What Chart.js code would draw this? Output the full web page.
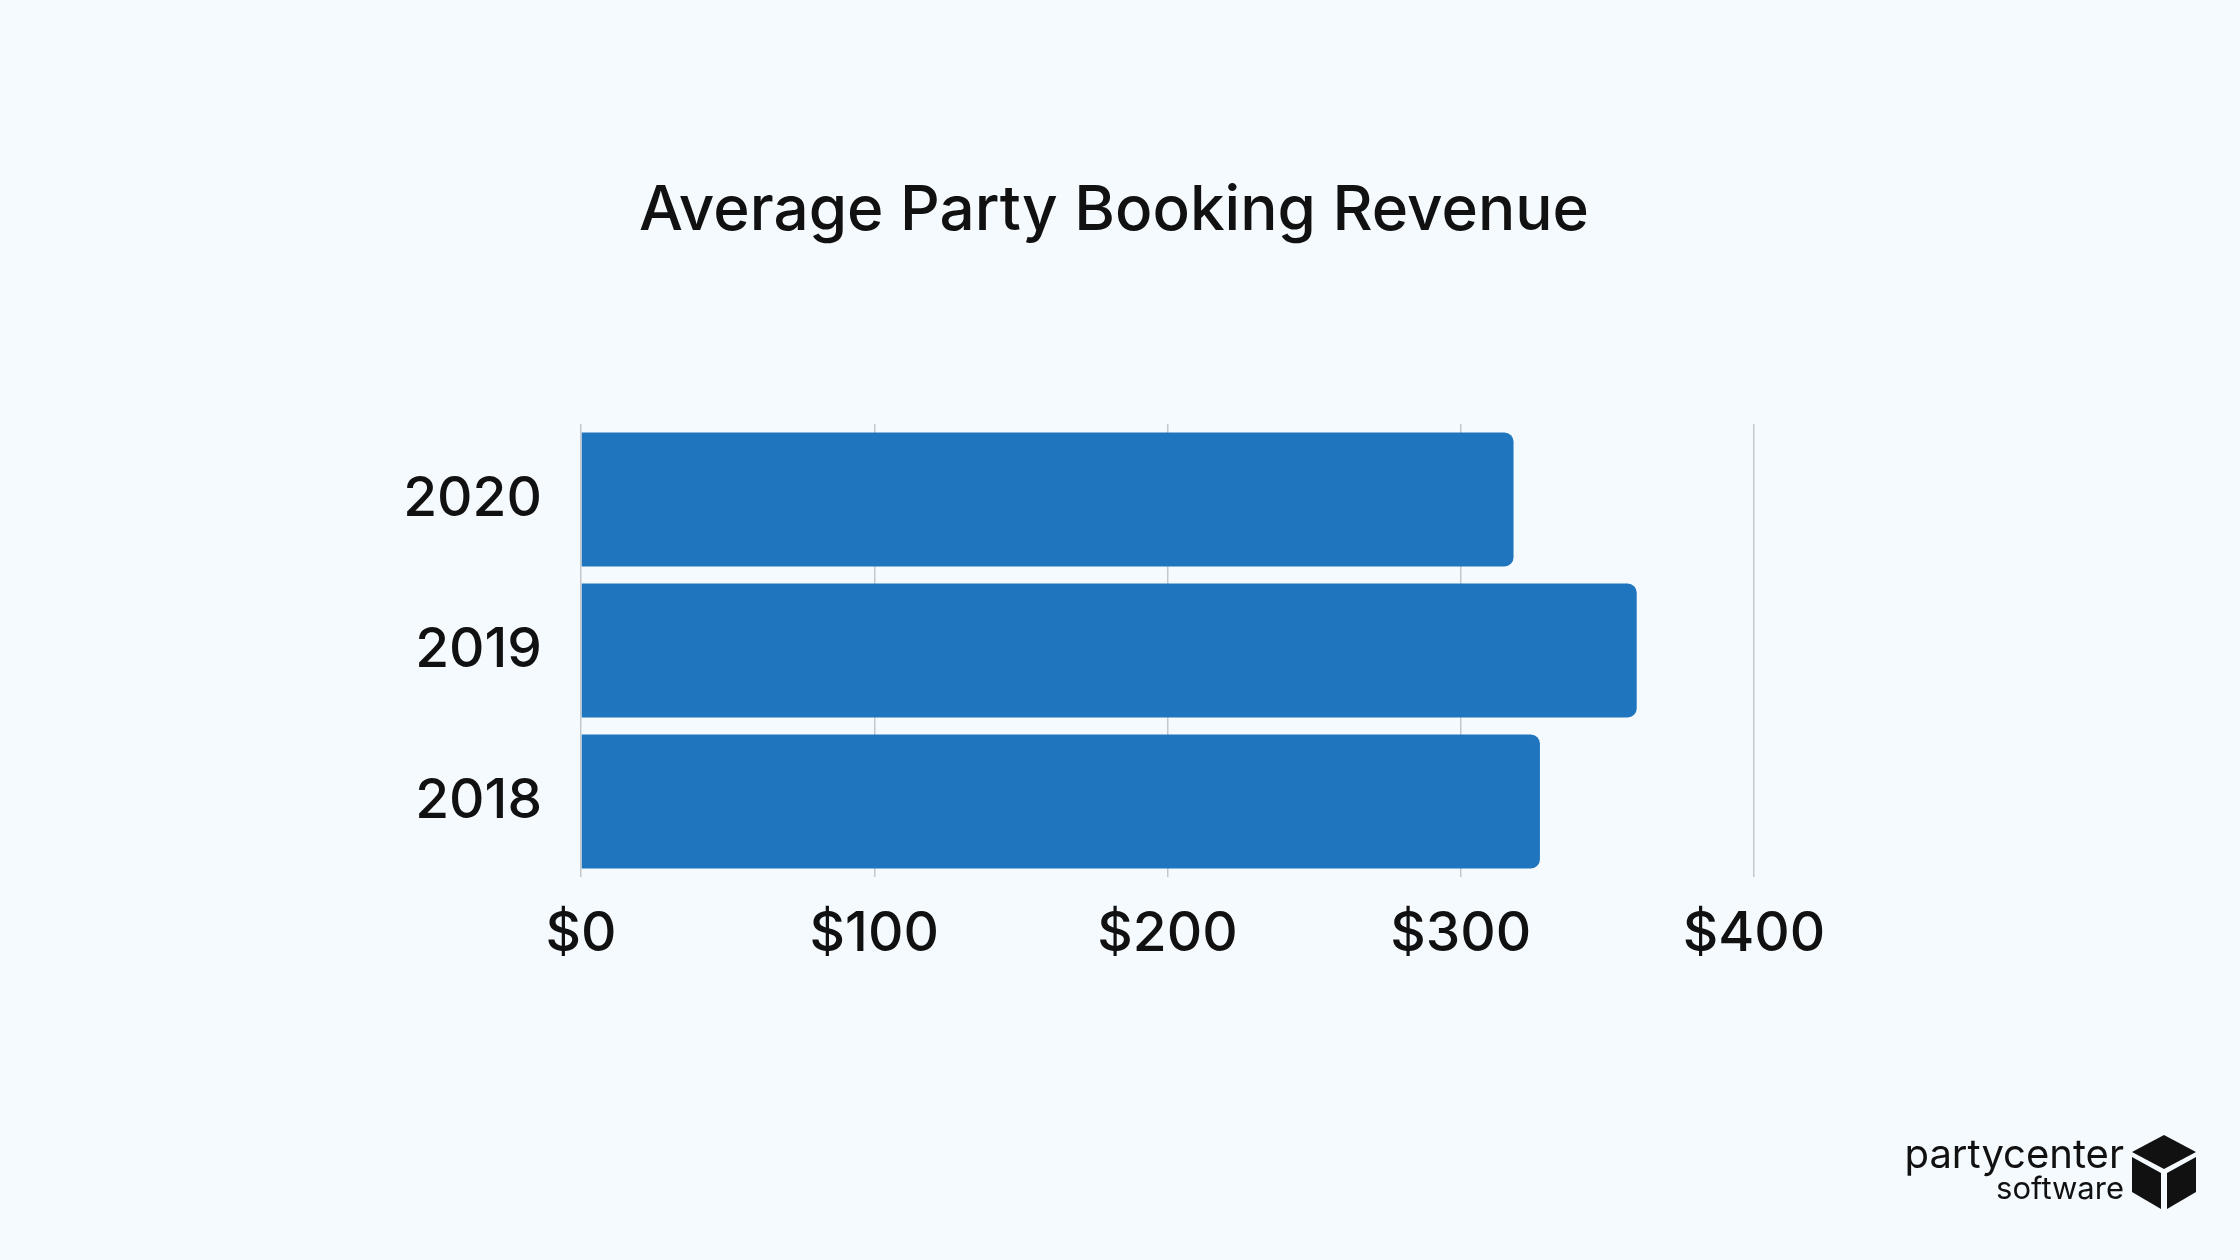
<!DOCTYPE html>
<html><head><meta charset="utf-8">
<script src="https://cdn.jsdelivr.net/npm/chart.js@4/dist/chart.umd.min.js"></script>
<style>
html,body{margin:0;padding:0;background:#F5FAFE;}
#wrap{position:relative;width:2240px;height:1260px;}
#title{position:absolute;left:0;width:2228px;top:170px;text-align:center;font-family:Inter,"Noto Sans",sans-serif;font-size:62px;font-weight:500;color:#111;}
#logo{position:absolute;right:116px;top:1134px;text-align:right;font-family:Inter,"Noto Sans",sans-serif;color:#111;line-height:1;}
#logo .a{font-size:40px;}
#logo .b{font-size:31px;margin-top:-2px;}
#cube{position:absolute;left:2130px;top:1133px;}
</style></head><body>
<div id="wrap">
<div id="title">Average Party Booking Revenue</div>
<canvas id="c" width="2240" height="1260"></canvas>
<div id="logo"><div class="a">partycenter</div><div class="b">software</div></div>
<svg id="cube" width="68" height="78" viewBox="0 0 68 78">
<polygon points="34,2 66,19 34,36 2,19" fill="#111"/>
<polygon points="2,24 31,40 31,76 2,59" fill="#111"/>
<polygon points="37,40 66,24 66,59 37,76" fill="#111"/>
</svg>
</div>
<script>
const categories = ["2020", "2019", "2018"];
const revenue = [318, 360, 327];
const xTicks = [0, 100, 200, 300, 400];

new Chart(document.getElementById('c'), {
  type: 'bar',
  data: { labels: categories, datasets: [{ data: revenue, backgroundColor: '#1F75BE',
    barPercentage: 0.887, categoryPercentage: 1.0,
    borderRadius: {topRight: 9, bottomRight: 9, topLeft: 0, bottomLeft: 0}, borderSkipped: false }] },
  options: {
    indexAxis: 'y', responsive: false, animation: false,
    layout: { padding: { top: 424, right: 486, bottom: 283, left: 0 } },
    plugins: { legend: { display: false }, tooltip: { enabled: false } },
    scales: {
      x: { min: 0, max: 400, afterBuildTicks: s => { s.ticks = xTicks.map(v => ({value: v})); },
        afterFit: s => { s.height = 100; },
        grid: { color: '#c4c8cc', lineWidth: 1.5, drawTicks: false },
        border: { display: false },
        ticks: { padding: 24, color: '#111', font: { family: 'Inter, "Noto Sans", sans-serif', size: 55, weight: 500 }, callback: v => '$' + v } },
      y: { afterFit: s => { s.width = 581; },
        grid: { display: false }, border: { display: false },
        ticks: { padding: 31, color: '#111', font: { family: 'Inter, "Noto Sans", sans-serif', size: 55, weight: 500 } } }
    }
  }
});
</script>
</body></html>
